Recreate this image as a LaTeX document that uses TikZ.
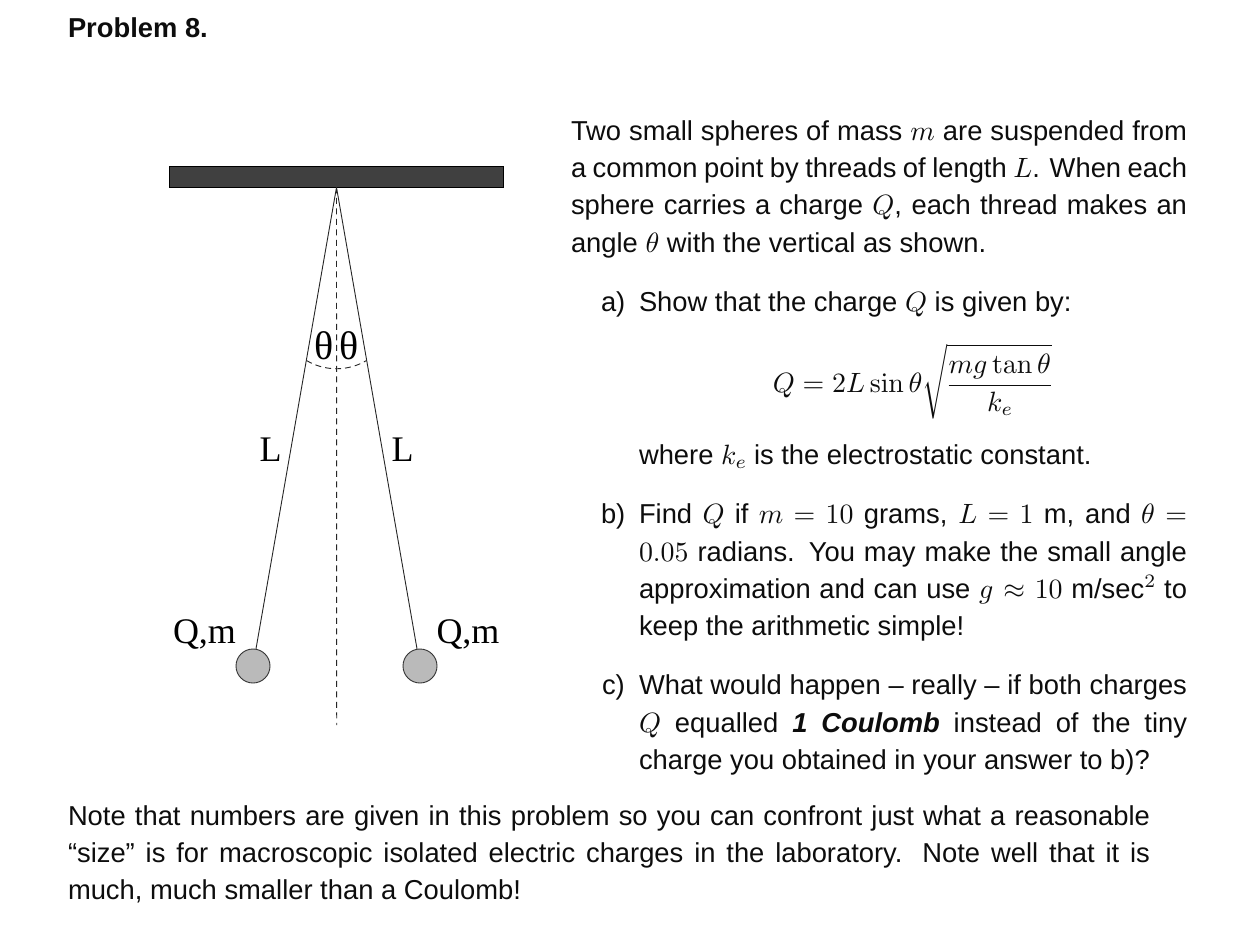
\documentclass[tikz,border=0pt]{standalone}
\usepackage{fix-cm}
\usepackage{amsmath}
\usepackage[no-math]{fontspec}
\setmainfont{Liberation Sans}
\newfontfamily\figfont{Liberation Serif}
\DeclareFontShape{OML}{cmm}{m}{it}{<-25> cmmi7 <25-> cmmi10}{}
\DeclareFontShape{OT1}{cmr}{m}{n}{<-25> cmr7 <25-> cmr10}{}
\DeclareFontShape{OMS}{cmsy}{m}{n}{<-25> cmsy7 <25-> cmsy10}{}
\DeclareMathSizes{27.35}{27.9}{19}{15}
\begin{document}
\begin{tikzpicture}[x=1pt,y=-1pt,
  bodyfont/.style={font=\fontsize{27.35}{37}\selectfont},
  txt/.style={bodyfont,anchor=base west,inner sep=0pt,outer sep=0pt,text=black!95},
  figlabel/.style={font=\figfont\fontsize{36}{36}\selectfont,anchor=base,inner sep=0pt},
  anglelabel/.style={font=\figfont\fontsize{40}{40}\selectfont,anchor=base,inner sep=0pt},
  sphere/.style={circle,draw=black!80,fill=black!27,line width=0.9pt,minimum size=34pt,inner sep=0pt},
  thread/.style={draw=black!85,line width=0.9pt},
  guide/.style={draw=black!85,line width=0.9pt,dash pattern=on 6pt off 4.5pt}]
\useasboundingbox (0,0) rectangle (1256,934);
\fill[white] (0,0) rectangle (1256,934);
\newcommand{\just}[2]{\makebox[#1pt][s]{#2}}
% figure
\node[draw=black,fill=black!75,line width=0.8pt,minimum width=334pt,minimum height=21pt,inner sep=0pt] (bar) at (336.5,176.5) {};
\coordinate (apex) at (bar.south);
\coordinate (guideend) at (336.7,725);
\node[sphere] (s1) at (253,666) {};
\node[sphere] (s2) at (420,666) {};
\draw[thread] (apex) -- (s1);
\draw[thread] (apex) -- (s2);
\draw[guide] (apex) -- (guideend);
\coordinate (arcl) at (306.5,360.5);
\coordinate (arcr) at (366.5,360.5);
\draw[guide,dash pattern=on 6pt off 4pt] (arcl) .. controls (325,371.5) and (348,371.5) .. (arcr);
\node[anglelabel] (t1) at (324,359) {θ};
\node[anglelabel] (t2) at (349.5,359) {θ};
\node[figlabel] (l1) at (270.5,461.5) {L};
\node[figlabel] (l2) at (402.5,461.5) {L};
\node[figlabel] (qm1) at (204.5,643) {Q,m};
\node[figlabel] (qm2) at (468,643) {Q,m};
% text
\node[txt] (title) at (68,38) {\textbf{Problem 8.}};
\node[txt] (p1) at (571,140) {\just{616}{Two small spheres of mass $m$ are suspended from}};
\node[txt] (p2) at (571,177) {\just{616}{a common point by threads of length $L$. When each}};
\node[txt] (p3) at (571,214) {\just{616}{sphere carries a charge $Q$, each thread makes an}};
\node[txt] (p4) at (571,252) {angle $\theta$ with the vertical as shown.};
\node[txt] (a0) at (601,311) {a)};
\node[txt] (a1) at (639,311) {Show that the charge $Q$ is given by:};
\node[txt,anchor=base] (eq) at (912.5,392) {$\displaystyle Q=2L\sin\theta\sqrt{\frac{mg\tan\theta}{k_e}}$};
\node[txt] (a2) at (639,464) {where $k_e$ is the electrostatic constant.};
\node[txt] (b0) at (601,523) {b)};
\node[txt] (b1) at (639,523) {\just{548}{Find $Q$ if $m$ $=$ $10$ grams, $L$ $=$ $1$ m, and $\theta$ $=$}};
\node[txt] (b2) at (639,561) {\just{548}{$0.05$ radians.  You may make the small angle}};
\node[txt] (b3) at (639,598) {\just{548}{approximation and can use $g\approx10$ m/sec$^2$ to}};
\node[txt] (b4) at (639,635) {keep the arithmetic simple!};
\node[txt] (c0) at (602,694) {c)};
\node[txt] (c1) at (639,694) {\just{548}{What would happen – really – if both charges}};
\node[txt] (c2) at (639,732) {\just{548}{$Q$ equalled \textbf{\textit{1 Coulomb}} instead of the tiny}};
\node[txt] (c3) at (639,769) {charge you obtained in your answer to b)?};
\node[txt] (n1) at (68,825) {\just{1082}{Note that numbers are given in this problem so you can confront just what a reasonable}};
\node[txt] (n2) at (68,862) {\just{1082}{“size” is for macroscopic isolated electric charges in the laboratory.  Note well that it is}};
\node[txt] (n3) at (68,899) {much, much smaller than a Coulomb!};
\end{tikzpicture}
\end{document}
